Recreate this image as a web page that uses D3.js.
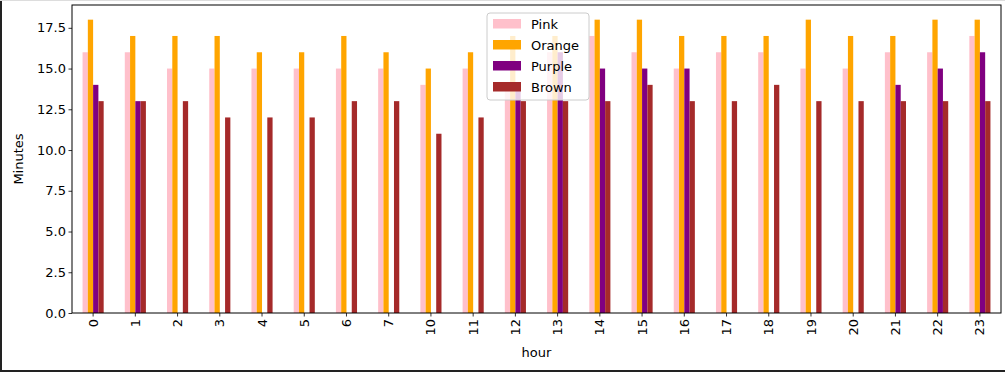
<!DOCTYPE html>
<html>
<head>
<meta charset="utf-8">
<script src="https://cdn.jsdelivr.net/npm/d3@7"></script>
<style>
  body { margin: 0; background: #fff; }
  svg { display: block; font-family: "DejaVu Sans", sans-serif; }
</style>
</head>
<body>
<svg id="chart" width="1005" height="372"></svg>
<script>
var hours = ["0","1","2","3","4","5","6","7","10","11","12","13","14","15","16","17","18","19","20","21","22","23"];
var seriesNames = ["Pink","Orange","Purple","Brown"];
var seriesColors = ["pink","orange","purple","brown"];
var pinkVals   = [16,16,15,15,15,15,15,15,14,15,14,16,17,16,15,16,16,15,15,16,16,17];
var orangeVals = [18,17,17,17,16,16,17,16,15,16,17,17,18,18,17,17,17,18,17,17,18,18];
var purpleVals = [14,13,null,null,null,null,null,null,null,null,14,16,15,15,15,null,null,null,null,14,15,16];
var brownVals  = [13,13,13,12,12,12,13,13,11,12,13,13,13,14,13,13,14,13,13,13,13,13];
var yTicks = [0,2.5,5,7.5,10,12.5,15,17.5];

var allSeries = [pinkVals, orangeVals, purpleVals, brownVals];

var plotLeft = 72, plotRight = 1001, plotTop = 5, plotBottom = 313;
var svg = d3.select("#chart");

// figure border
svg.append("line").attr("x1",1).attr("x2",1).attr("y1",0).attr("y2",372).attr("stroke","#222").attr("stroke-width",2);
svg.append("line").attr("x1",0).attr("x2",1005).attr("y1",371).attr("y2",371).attr("stroke","#222").attr("stroke-width",2);
svg.append("line").attr("x1",0).attr("x2",1005).attr("y1",0.5).attr("y2",0.5).attr("stroke","#ddd").attr("stroke-width",1);

var x = d3.scaleBand().domain(hours).range([plotLeft, plotRight]).paddingInner(0).paddingOuter(0);
var y = d3.scaleLinear().domain([0, 18.9]).range([plotBottom, plotTop]);
var groupW = x.bandwidth() * 0.5;
var barW = groupW / 4;

var g = svg.append("g");
allSeries.forEach(function(vals, s) {
    g.selectAll(".bar" + s)
    .data(vals.map(function(v, i) { return {v: v, h: hours[i]}; }).filter(function(d) { return d.v != null; }))
    .enter()
    .append("rect")
    .attr("class", "bar" + s)
    .attr("x", function(d) { return x(d.h) + x.bandwidth()/2 - groupW/2 + s * barW; })
    .attr("y", function(d) { return y(d.v); })
    .attr("width", barW)
    .attr("height", function(d) { return y(0) - y(d.v); })
    .attr("fill", seriesColors[s]);
});

// axes
var yAxis = svg.append("g")
    .attr("transform", "translate(" + plotLeft + ",0)")
    .call(d3.axisLeft(y).tickValues(yTicks).tickFormat(d3.format(".1f")).tickSize(3.5).tickSizeOuter(0));
var xAxis = svg.append("g")
    .attr("transform", "translate(0," + plotBottom + ")")
    .call(d3.axisBottom(x).tickSize(3.5).tickSizeOuter(0));

[xAxis, yAxis].forEach(function(a) {
    a.select(".domain").remove();
    a.selectAll("line").attr("stroke", "#000").attr("stroke-width", 0.8);
    a.selectAll("text").attr("fill", "#000").style("font-size", "13px").style("font-family", "DejaVu Sans");
});
yAxis.selectAll("text").attr("x", -6);
xAxis.selectAll("text")
    .attr("transform", "rotate(-90)")
    .attr("x", -6)
    .attr("y", 0)
    .attr("dy", "0.35em")
    .attr("text-anchor", "end");

// frame
svg.append("rect").attr("x", plotLeft).attr("y", plotTop).attr("width", plotRight - plotLeft).attr("height", plotBottom - plotTop)
    .attr("fill", "none").attr("stroke", "#000").attr("stroke-width", 1);

// labels
svg.append("text").attr("x", (plotLeft + plotRight)/2).attr("y", 357).attr("text-anchor", "middle")
    .style("font-size", "13px").text("hour");
svg.append("text").attr("transform", "translate(23," + ((plotTop + plotBottom)/2) + ") rotate(-90)")
    .attr("text-anchor", "middle").style("font-size", "13px").text("Minutes");

// legend
var lg = svg.append("g").attr("transform", "translate(487,13)");
lg.append("rect").attr("width", 102).attr("height", 87).attr("rx", 3)
    .attr("fill", "#fff").attr("fill-opacity", 0.8).attr("stroke", "#ccc").attr("stroke-width", 1);
seriesNames.forEach(function(n, i) {
    lg.append("rect").attr("x", 6).attr("y", 6 + i * 21).attr("width", 28).attr("height", 9.5).attr("fill", seriesColors[i]);
    lg.append("text").attr("x", 44).attr("y", 11 + i * 21).attr("dy", "0.35em")
        .style("font-size", "13px").text(n);
});
</script>
</body>
</html>
